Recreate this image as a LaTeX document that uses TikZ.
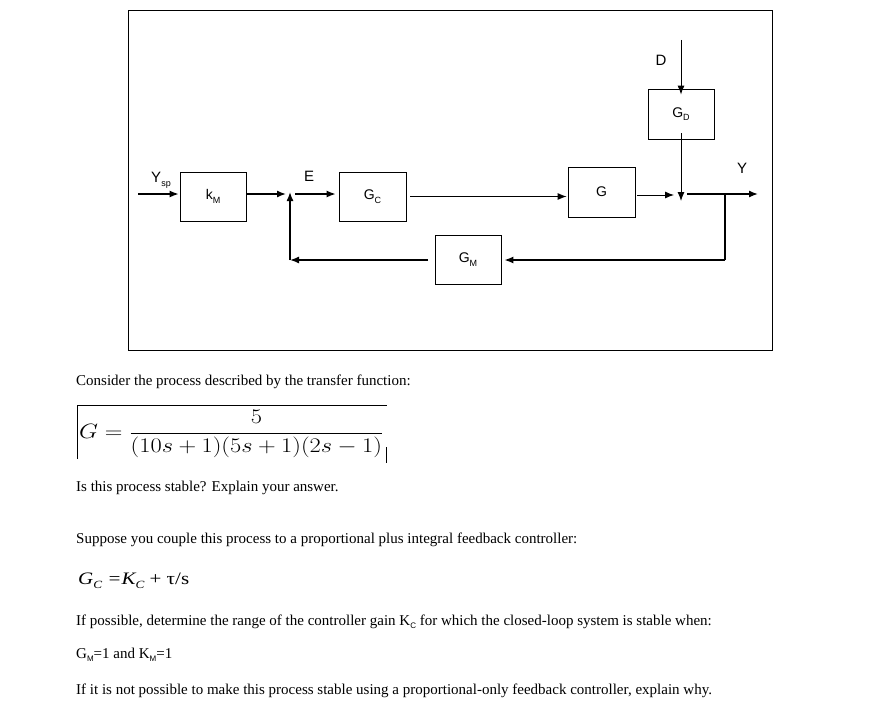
\documentclass[tikz,border=0pt]{standalone}
\usepackage{fontspec}
\setmainfont{Liberation Serif}
\newfontfamily\arialf{Liberation Sans}
\usetikzlibrary{arrows.meta}
\newcommand{\subsc}[1]{\raisebox{-0.25em}{\fontsize{9}{9}\selectfont #1}}
\begin{document}
\begin{tikzpicture}[x=1pt,y=-1pt,
  blk/.style={draw, line width=0.8pt, minimum width=66pt, minimum height=49pt, inner sep=0pt, font=\arialf\fontsize{14}{16}\selectfont},
  sig/.style={line width=1.4pt, -{Latex[length=9pt,width=7pt]}},
  thin sig/.style={line width=0.9pt, -{Latex[length=9pt,width=7pt]}},
  lbl/.style={font=\arialf\fontsize{15}{17}\selectfont, inner sep=0pt},
  txt/.style={anchor=base west, inner sep=0pt, font=\fontsize{15}{17}\selectfont}]
\useasboundingbox (0,0) rectangle (885,701);
\node[draw, line width=1pt, minimum width=644pt, minimum height=340pt, inner sep=0pt, anchor=north west] (frame) at (128,10) {};
% blocks
\node[blk] (km) at (213,196.5) {k\subsc{M}};
\node[blk, minimum width=67pt] (gc) at (372.5,196.5) {G\subsc{C}};
\node[blk, minimum width=67pt, minimum height=50pt] (g) at (601.5,192) {G};
\node[blk, minimum height=50pt] (gd) at (681,114) {G\subsc{D}};
\node[blk] (gm) at (468,259.5) {G\subsc{M}};
% junctions
\coordinate (ysp) at (138,194);
\coordinate (s1) at (290,194);
\coordinate (s2) at (681,195);
\coordinate (d) at (681,40);
\coordinate (yout) at (758,194);
\coordinate (br) at (725,194);
\coordinate (brd) at (725,260);
\coordinate (fl) at (428,260);
\coordinate (fc) at (290,260);
% connectors
\draw[sig] (ysp) -- ([xshift=-1pt]ysp -| km.west);
\draw[sig] (km.east |- s1) -- ([xshift=-4pt]s1);
\draw[sig] ([xshift=5pt]s1) -- ([xshift=-3pt]gc.west |- s1);
\draw[thin sig] ([xshift=4pt]gc.east) -- ([xshift=-1pt]g.west |- gc.east);
\draw[thin sig] ([xshift=2pt]g.east |- s2) -- ([xshift=-7pt]s2);
\draw[thin sig] ([yshift=6pt]gd.south) -- ([yshift=-6pt]s2);
\draw[thin sig] (d) -- ([yshift=-6pt]gd.north);
\draw[sig] ([xshift=6pt]s2 |- yout) -- (yout);
\draw[line width=1.4pt] (br) -- (brd);
\draw[sig] (brd) -- ([xshift=3pt]gm.east |- brd);
\draw[sig] (fl) -- (fc);
\draw[sig] (fc) -- ([yshift=2pt]s1);
% labels
\node[lbl] (lysp) at (161,180) {Y\subsc{sp}};
\node[lbl] (le) at (309,176) {E};
\node[lbl] (ld) at (661,60) {D};
\node[lbl] (ly) at (742,168) {Y};
% text
\node[txt] (t1) at (76,385) {Consider the process described by the transfer function:};
\draw[line width=0.7pt] (77,459) -- (77,405) -- (387,405);
\draw[line width=0.7pt] (386,447) -- (386,463);
\node[inner sep=0pt, anchor=west, font=\fontsize{22}{24}\selectfont] (eq) at (79,434) {\scalebox{1.18}[1]{$G = \displaystyle\frac{5}{(10s+1)(5s+1)(2s-1)}$}};
\node[txt] (t2) at (76,491) {Is this process stable? Explain your answer.};
\node[txt] (t3) at (76,543) {Suppose you couple this process to a proportional plus integral feedback controller:};
\node[txt, font=\fontsize{17.5}{20}\selectfont] (t4) at (78,584) {\scalebox{1.2}[1]{\itshape G\raisebox{-0.25em}{\fontsize{11}{11}\selectfont C} =K\raisebox{-0.25em}{\fontsize{11}{11}\selectfont C} \upshape + τ/s}};
\node[txt] (t5) at (76,625) {If possible, determine the range of the controller gain K\raisebox{-0.2em}{\arialf\fontsize{8}{8}\selectfont C} for which the closed-loop system is stable when:};
\node[txt] (t6) at (76,658) {G\raisebox{-0.2em}{\arialf\fontsize{8}{8}\selectfont M}=1 and K\raisebox{-0.2em}{\arialf\fontsize{8}{8}\selectfont M}=1};
\node[txt] (t7) at (76,694) {If it is not possible to make this process stable using a proportional-only feedback controller, explain why.};
\end{tikzpicture}
\end{document}
